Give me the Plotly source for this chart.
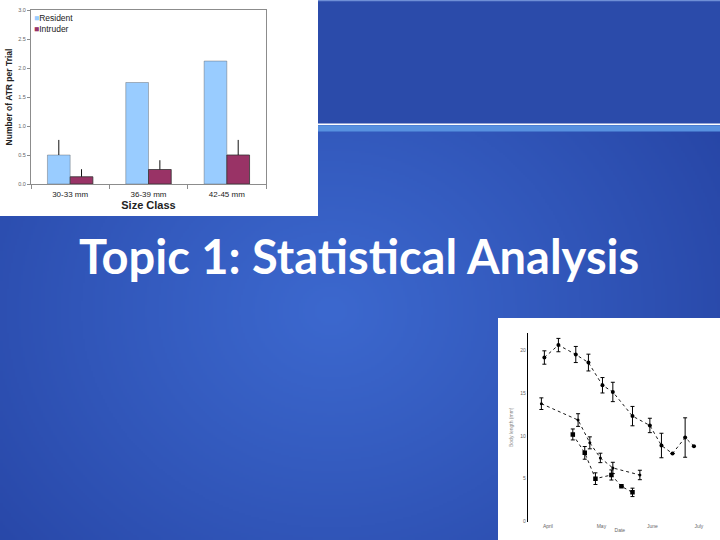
import base64
import struct
import zlib

import numpy as np
import plotly.graph_objects as go

W, H = 720, 540

# ---------------- data: bar chart (top left) ----------------
size_classes = ["30-33 mm", "36-39 mm", "42-45 mm"]
bar_series_names = ["Resident", "Intruder"]
resident = [0.5, 1.75, 2.12]
resident_err = [0.26, 0.0, 0.0]
intruder = [0.125, 0.25, 0.5]
intruder_err = [0.13, 0.16, 0.26]
bar_yticks = [0.0, 0.5, 1.0, 1.5, 2.0, 2.5, 3.0]

# ---------------- data: body length chart (bottom right) ----------------
# x = days after 1 April
a_day = [9.5, 17.5, 27.4, 34.6, 42.6, 48.5, 59.7, 69.6, 76.2, 82.5, 89.7, 94.7]
a_len = [19.14, 20.59, 19.49, 18.55, 15.9, 15.12, 12.3, 11.21, 8.87, 7.93, 9.8, 8.79]
a_err = [0.78, 0.78, 0.94, 0.98, 0.9, 1.13, 1.13, 0.84, 1.43, 0.0, 2.3, 0.0]

b_day = [7.8, 28.7, 35.4, 41.4, 48.5, 63.9]
b_len = [13.75, 11.84, 9.18, 7.42, 6.25, 5.43]
b_err = [0.68, 0.74, 0.7, 0.55, 0.66, 0.55]

c_day = [25.7, 32.5, 38.6, 47.7, 53.4, 59.7]
c_len = [10.16, 8.01, 5.0, 5.43, 4.1, 3.4]
c_err = [0.64, 0.74, 0.68, 0.59, 0.0, 0.49]

month_labels = ["April", "May", "June", "July"]
month_label_days = [11.5, 42, 71, 97.5]
month_start_days = [30, 61, 91]
line_yticks = [0, 5, 10, 15, 20]

title_text = "Topic 1: Statistical Analysis"


# ---------------- helpers ----------------
def px(x):
    return x / W


def py(y):
    return 1 - y / H


def png_data_uri(arr):
    h, w, _ = arr.shape
    raw = b"".join(b"\x00" + arr[i].tobytes() for i in range(h))

    def chunk(tag, data):
        c = struct.pack(">I", len(data)) + tag + data
        return c + struct.pack(">I", zlib.crc32(tag + data) & 0xFFFFFFFF)

    png = (b"\x89PNG\r\n\x1a\n"
           + chunk(b"IHDR", struct.pack(">IIBBBBB", w, h, 8, 2, 0, 0, 0))
           + chunk(b"IDAT", zlib.compress(raw, 9))
           + chunk(b"IEND", b""))
    return "data:image/png;base64," + base64.b64encode(png).decode()


# radial blue gradient background
gw, gh = 360, 270
yy, xx = np.mgrid[0:gh, 0:gw].astype(float)
fx = xx / gw * W
fy = yy / gh * H
d = np.sqrt((fx - 330) ** 2 + ((fy - 310) * 1.15) ** 2)
t = np.clip(d / 470, 0, 1) ** 1.1
inner = np.array([60, 104, 206], dtype=float)
outer = np.array([38, 68, 164], dtype=float)
img = (inner + (outer - inner) * t[..., None]).clip(0, 255).astype(np.uint8)
bg_uri = png_data_uri(img)

fig = go.Figure()

# ---------------- bar chart ----------------
zeros3 = [0] * len(size_classes)
fig.add_trace(go.Bar(
    x=size_classes, y=resident, name=bar_series_names[0],
    marker=dict(color="#99CCFF", line=dict(color="#555555", width=0.4)),
    error_y=dict(type="data", array=resident_err, arrayminus=zeros3, symmetric=False,
                 color="#111111", thickness=1, width=0),
    xaxis="x", yaxis="y", showlegend=False,
))
fig.add_trace(go.Bar(
    x=size_classes, y=intruder, name=bar_series_names[1],
    marker=dict(color="#993366", line=dict(color="#333333", width=0.8)),
    error_y=dict(type="data", array=intruder_err, arrayminus=zeros3, symmetric=False,
                 color="#111111", thickness=1, width=0),
    xaxis="x", yaxis="y", showlegend=False,
))

# ---------------- line chart ----------------
line_style = dict(color="black", width=0.9, dash="dot")
err_style = dict(color="black", thickness=1, width=2)
fig.add_trace(go.Scatter(
    x=a_day, y=a_len, mode="lines+markers", line=line_style,
    marker=dict(symbol="circle", size=4, color="black"),
    error_y=dict(type="data", array=a_err, **err_style),
    xaxis="x2", yaxis="y2", showlegend=False,
))
fig.add_trace(go.Scatter(
    x=b_day, y=b_len, mode="lines+markers", line=line_style,
    marker=dict(symbol="circle", size=3, color="black"),
    error_y=dict(type="data", array=b_err, **err_style),
    xaxis="x2", yaxis="y2", showlegend=False,
))
fig.add_trace(go.Scatter(
    x=c_day, y=c_len, mode="lines+markers", line=line_style,
    marker=dict(symbol="square", size=4.5, color="black"),
    error_y=dict(type="data", array=c_err, **err_style),
    xaxis="x2", yaxis="y2", showlegend=False,
))

# ---------------- shapes (panels, bands) ----------------
shapes = [
    dict(type="rect", xref="paper", yref="paper", x0=px(0), x1=px(318), y0=py(216), y1=py(0),
         fillcolor="white", line=dict(width=0), layer="below"),
    dict(type="rect", xref="paper", yref="paper", x0=px(318), x1=px(720), y0=py(124), y1=py(0),
         fillcolor="#2B4BAA", line=dict(width=0), layer="below"),
    dict(type="line", xref="paper", yref="paper", x0=px(318), x1=px(720), y0=py(0.7), y1=py(0.7),
         line=dict(color="#6F8FD6", width=1.2), layer="below"),
    dict(type="line", xref="paper", yref="paper", x0=px(318), x1=px(720), y0=py(124.3), y1=py(124.3),
         line=dict(color="white", width=1.4), layer="below"),
    dict(type="rect", xref="paper", yref="paper", x0=px(318), x1=px(720), y0=py(131.5), y1=py(125.2),
         fillcolor="#5791E0", line=dict(width=0), layer="below"),
    dict(type="rect", xref="paper", yref="paper", x0=px(498), x1=px(720), y0=py(540), y1=py(318),
         fillcolor="white", line=dict(width=0), layer="below"),
]

# ---------------- annotations ----------------
bar_colors = ["#99CCFF", "#993366"]
annotations = [
    dict(text=title_text, xref="paper", yref="paper", x=px(359), y=py(256),
         xanchor="center", yanchor="middle", showarrow=False,
         font=dict(family="Lato", size=47, color="white", weight="bold")),
]
for i, name in enumerate(bar_series_names):
    annotations.append(dict(
        text=f"<span style='color:{bar_colors[i]}'>■</span>{name}",
        xref="paper", yref="paper", x=px(31.5), y=py(18 + 11.5 * i),
        xanchor="left", yanchor="middle", showarrow=False,
        font=dict(family="Liberation Sans", size=8.5, color="#222222")))

fig.update_layout(
    width=W, height=H, autosize=False,
    margin=dict(l=0, r=0, t=0, b=0, pad=0, autoexpand=False),
    paper_bgcolor="#2F55B8",
    plot_bgcolor="rgba(0,0,0,0)",
    barmode="group", bargap=0.42, bargroupgap=0,
    images=[dict(source=bg_uri, xref="paper", yref="paper", x=0, y=1, sizex=1, sizey=1,
                 xanchor="left", yanchor="top", sizing="stretch", layer="below")],
    shapes=shapes,
    annotations=annotations,
    # bar chart axes
    xaxis=dict(domain=[px(31), px(266)], anchor="y", type="category", automargin=False,
               showline=True, linecolor="#8C8C8C", linewidth=1, mirror=True,
               ticks="outside", tickson="boundaries", ticklen=4, tickcolor="#8C8C8C",
               ticklabelstandoff=2,
               tickfont=dict(family="Liberation Sans", size=8, color="#222222"),
               title=dict(text="<b>Size Class</b>", standoff=0,
                          font=dict(family="Liberation Sans", size=11, color="#222222")),
               showgrid=False, zeroline=False, fixedrange=True),
    yaxis=dict(domain=[py(184), py(10)], anchor="x", range=[0, 3], automargin=False,
               tickvals=bar_yticks, ticktext=[f"{v:.1f}" for v in bar_yticks],
               showline=True, linecolor="#8C8C8C", linewidth=1, mirror=True,
               ticks="outside", ticklen=3, tickcolor="#8C8C8C",
               tickfont=dict(family="Liberation Sans", size=5.5, color="#666666"),
               title=dict(text="<b>Number of ATR per Trial</b>", standoff=4,
                          font=dict(family="Liberation Sans", size=8.5, color="#222222")),
               showgrid=False, zeroline=False),
    # line chart axes
    xaxis2=dict(domain=[px(527.7), px(712)], anchor="y2", range=[0, 105], automargin=False,
                tickvals=month_label_days, ticktext=month_labels, ticks="",
                tickfont=dict(family="Liberation Sans", size=5, color="#666666"),
                title=dict(text="Date", standoff=0,
                           font=dict(family="Liberation Sans", size=5, color="#666666")),
                showline=False, showgrid=False, zeroline=False),
    xaxis3=dict(overlaying="x2", anchor="y2", range=[0, 105], tickvals=month_start_days,
                ticks="outside", ticklen=4, tickcolor="black", showticklabels=False,
                showline=False, showgrid=False, zeroline=False, automargin=False),
    xaxis4=dict(overlaying="x2", anchor="y2", side="top", range=[0, 105],
                showline=True, linecolor="black", linewidth=1, ticks="",
                showticklabels=False, showgrid=False, zeroline=False, automargin=False),
    yaxis2=dict(domain=[py(521.5), py(333)], anchor="x2", range=[0, 22], automargin=False,
                tickvals=line_yticks, ticks="",
                tickfont=dict(family="Liberation Sans", size=5, color="#666666"),
                title=dict(text="Body length (mm)", standoff=6,
                           font=dict(family="Liberation Sans", size=5, color="#888888")),
                showline=True, linecolor="black", linewidth=1,
                showgrid=False, zeroline=False),
    yaxis3=dict(overlaying="y2", anchor="x2", side="right", range=[0, 22],
                tickvals=[5, 15], ticks="outside", ticklen=3, tickcolor="#888888",
                showticklabels=False, showline=False, showgrid=False, zeroline=False,
                automargin=False),
)

post_js = (
    "document.documentElement.style.margin='0px';"
    "document.body.style.margin='0px';"
    "document.body.style.overflow='hidden';"
    "var gd=document.getElementById('{plot_id}');"
    "gd.style.position='absolute';gd.style.left='0px';gd.style.top='0px';"
)

fig.write_html("out.html", config={"displayModeBar": False}, post_script=post_js)
